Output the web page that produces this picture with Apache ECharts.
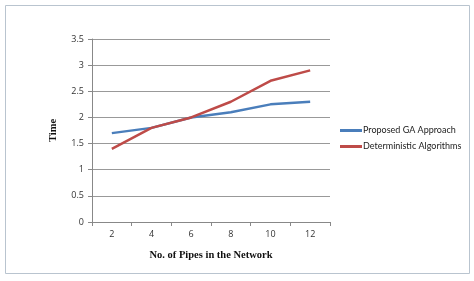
<!DOCTYPE html>
<html>
<head>
<meta charset="utf-8">
<script src="https://cdn.jsdelivr.net/npm/echarts@6/dist/echarts.min.js"></script>
<style>
html,body{margin:0;padding:0;background:#fff;}
#chart{width:474px;height:281px;}
</style>
</head>
<body>
<div id="chart"></div>
<script>
// Number of pipes in the network (x categories)
const pipes = ['2', '4', '6', '8', '10', '12'];
// Computation time of each method
const gaTimes = [1.7, 1.8, 2.0, 2.1, 2.25, 2.3];
const deterministicTimes = [1.4, 1.8, 2.0, 2.3, 2.7, 2.9];
const seriesNames = ['Proposed GA Approach', 'Deterministic Algorithms'];

const chart = echarts.init(document.getElementById('chart'));
const tickFont = { fontFamily: 'Open Sans, Liberation Sans, sans-serif', fontSize: 9, color: '#333' };

chart.setOption({
  animation: false,
  backgroundColor: '#fff',
  graphic: [{
    type: 'rect',
    shape: { x: 5.5, y: 5.5, width: 464, height: 268 },
    style: { fill: 'none', stroke: '#b9c4cf', lineWidth: 1 },
    z: -1
  }],
  grid: { left: 92, right: 144, top: 39, bottom: 59 },
  legend: {
    orient: 'vertical',
    left: 340,
    top: 126,
    padding: 0,
    itemWidth: 22,
    itemHeight: 3,
    itemGap: 7,
    icon: 'rect',
    textStyle: { fontFamily: 'Lato, Open Sans, sans-serif', fontSize: 9, color: '#222', padding: [0, 0, 0, -4] },
    data: seriesNames
  },
  xAxis: {
    type: 'category',
    data: pipes,
    boundaryGap: true,
    name: 'No. of Pipes in the Network',
    nameLocation: 'middle',
    nameGap: 28,
    nameTextStyle: { fontFamily: 'Liberation Serif, serif', fontWeight: 'bold', fontSize: 10.5, color: '#111' },
    axisLine: { lineStyle: { color: '#888', width: 1 } },
    axisTick: { show: true, length: 4, alignWithLabel: false, lineStyle: { color: '#888' } },
    axisLabel: Object.assign({ margin: 8 }, tickFont)
  },
  yAxis: {
    type: 'value',
    min: 0,
    max: 3.5,
    interval: 0.5,
    name: 'Time',
    nameLocation: 'middle',
    nameGap: 33,
    nameTextStyle: { fontFamily: 'Liberation Serif, serif', fontWeight: 'bold', fontSize: 10.5, color: '#111' },
    axisLine: { show: true, lineStyle: { color: '#888', width: 1 } },
    axisTick: { show: true, length: 4, lineStyle: { color: '#888' } },
    axisLabel: Object.assign({ margin: 8 }, tickFont),
    splitLine: { lineStyle: { color: '#999', width: 1 } }
  },
  series: [
    {
      name: seriesNames[0],
      type: 'line',
      data: gaTimes,
      symbol: 'none',
      lineStyle: { color: '#4a7ebb', width: 2.5 },
      itemStyle: { color: '#4a7ebb' }
    },
    {
      name: seriesNames[1],
      type: 'line',
      data: deterministicTimes,
      symbol: 'none',
      lineStyle: { color: '#be4b48', width: 2.5 },
      itemStyle: { color: '#be4b48' }
    }
  ]
});
</script>
</body>
</html>
